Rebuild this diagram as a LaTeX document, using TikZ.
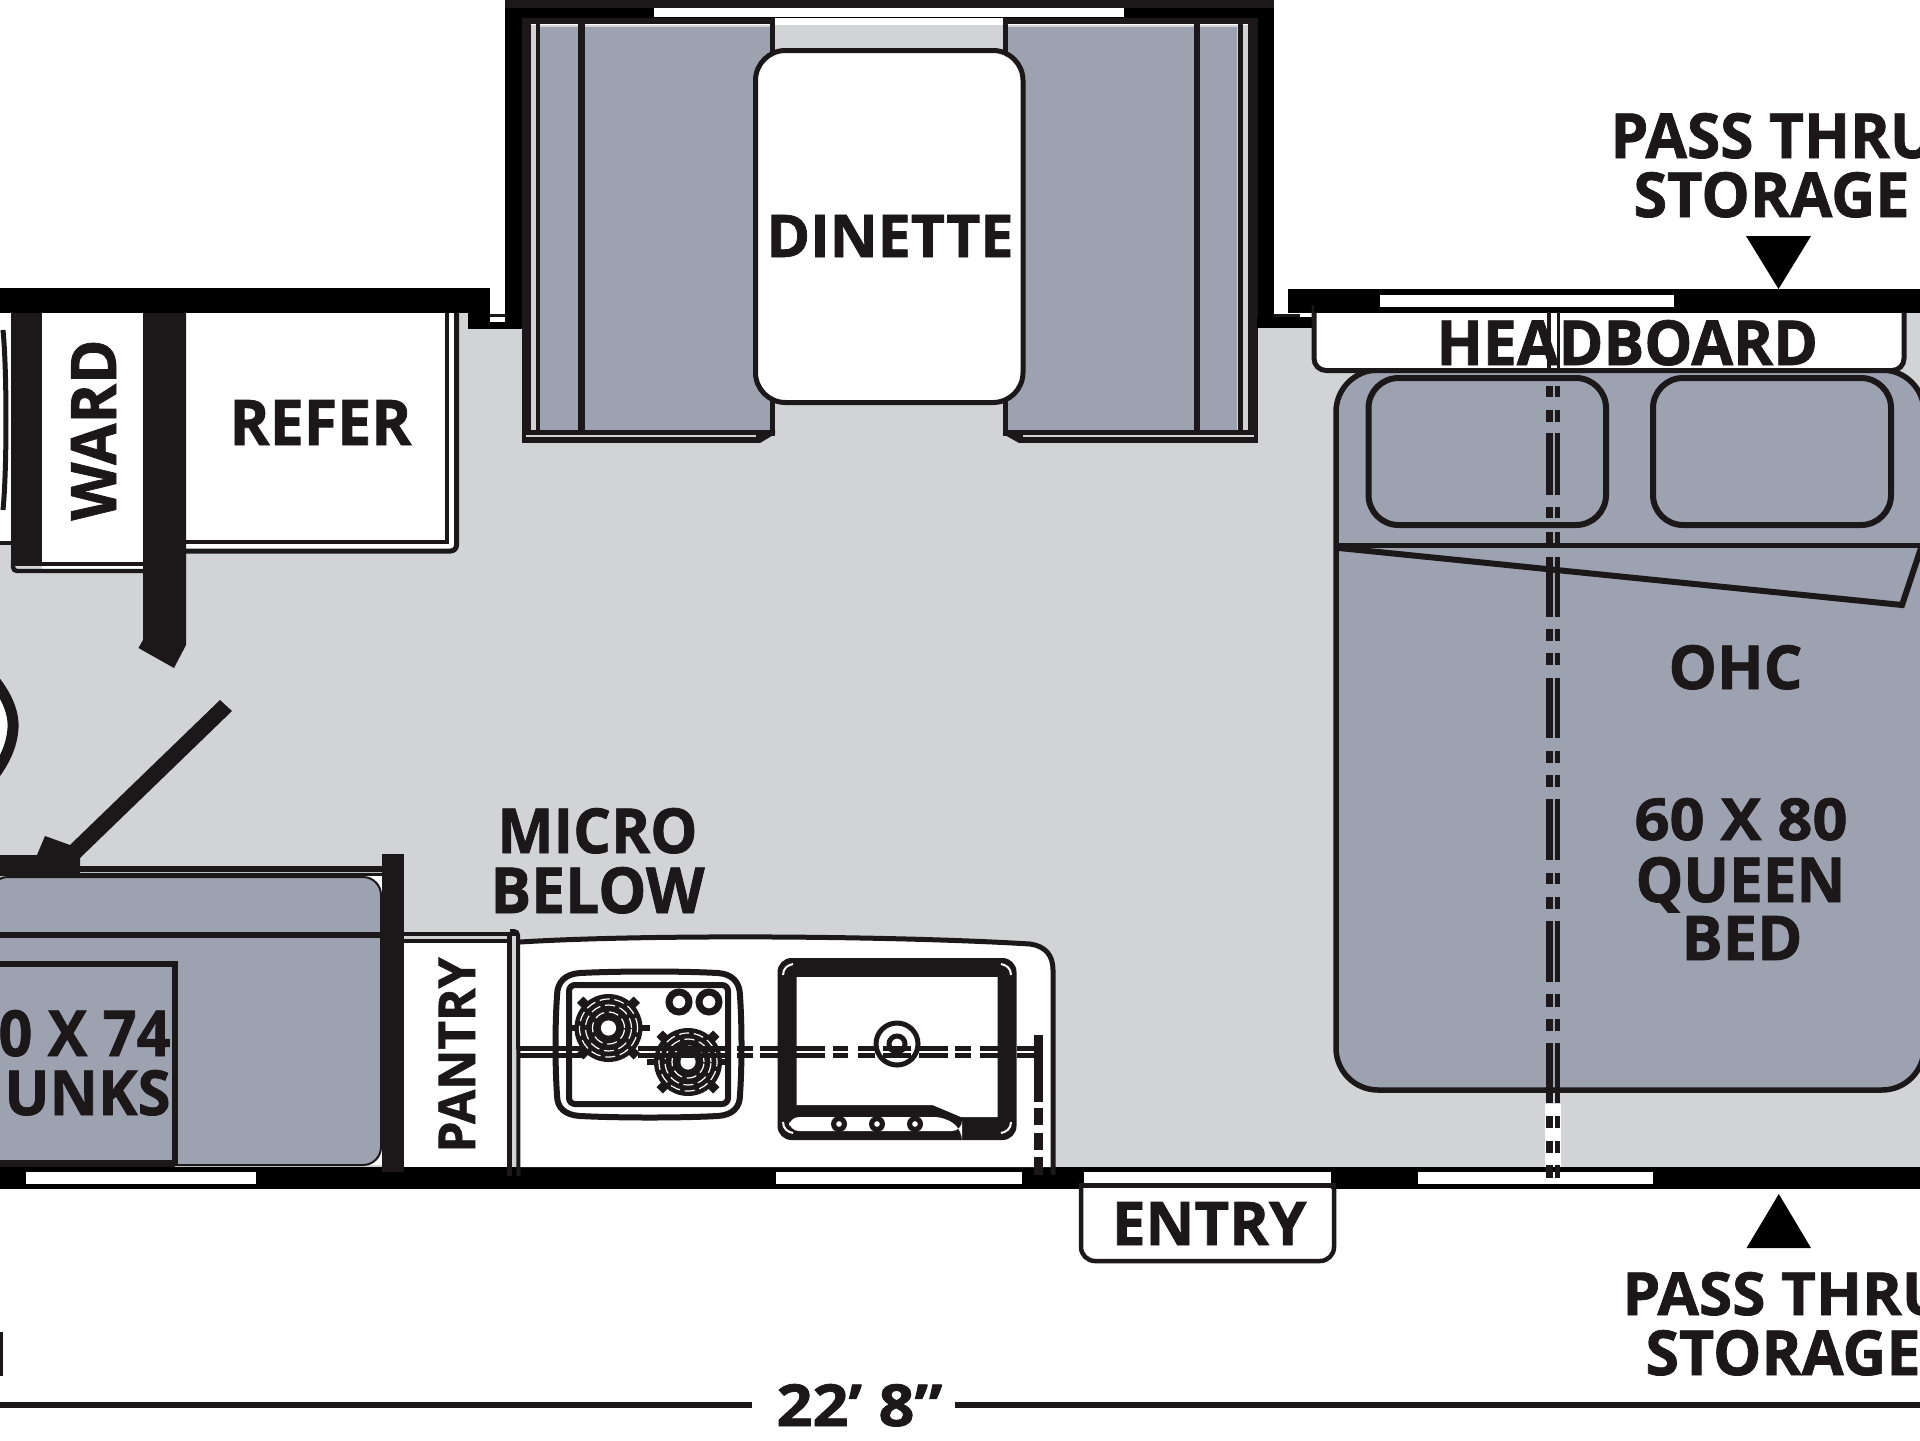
\documentclass[tikz,border=0pt]{standalone}
\usepackage{fontspec}
\setmainfont{Open Sans}[BoldFeatures={FakeBold=1.2}]
\definecolor{floorgray}{HTML}{D1D3D4}
\definecolor{seatgray}{HTML}{9CA2B0}
\definecolor{ink}{HTML}{1C1819}
\tikzset{
  ln/.style={draw=ink,line width=#1*0.5pt},
  lab/.style={inner sep=0pt,outer sep=0pt,text=ink,font=\bfseries},
}
% name, x1, x2, y1 (top), y2 (baseline), text
\newcommand{\plabel}[6]{%
  \pgfmathsetlengthmacro{\lblw}{(#3-#2+5)*0.5pt}%
  \pgfmathsetlengthmacro{\lblh}{(#5-#4)*0.5pt}%
  \node[lab,anchor=base] (#1) at ({(#2+#3)/2},#5) {\resizebox{\lblw}{\lblh}{\raisebox{0pt}[\height][0pt]{#6}}};%
}
\newcommand{\vlabel}[6]{%
  \pgfmathsetlengthmacro{\lblw}{(#5-#4+5)*0.5pt}%
  \pgfmathsetlengthmacro{\lblh}{(#3-#2)*0.5pt}%
  \node[lab,anchor=center,rotate=90] (#1) at ({(#2+#3)/2},{(#4+#5)/2}) {\resizebox{\lblw}{\lblh}{#6}};%
}
\newcommand{\burner}[2]{%
  \begin{scope}[shift={(#1,#2)}]
    \draw[ln=6] (-41,0) -- (41,0);
    \foreach \ang in {45,135,225,315} {\draw[ln=9] (0,0) -- (\ang:20pt);}
    \fill[ink] (0,0) circle[radius=17pt];
    \foreach \rr in {8,11.5,14.5} {\draw[white,line width=0.6pt,dash pattern=on 5pt off 2.4pt] (0,0) circle[radius=\rr pt];}
    \fill[white] (0,0) circle[radius=3.8pt];
  \end{scope}%
}
\begin{document}
\begin{tikzpicture}[x=0.5pt,y=-0.5pt]
\useasboundingbox (0,0) rectangle (1920,1440);
\clip (0,0) rectangle (1920,1440);
\fill[white] (0,0) rectangle (1920,1440);
% floor
\fill[floorgray] (0,313) -- (468,313) -- (468,329) -- (522,329) -- (522,25) -- (1257,25) -- (1257,328) -- (1312,328) -- (1312,313) -- (1920,313) -- (1920,1167) -- (0,1167) -- cycle;
% closet zone at far left
\fill[white] (0,313) rectangle (11,543);
\draw[ln=5] (3,330) .. controls (7,370) and (7,470) .. (3,510);
\draw[ln=4] (0,543) -- (11,543);
% toilet curve
\draw[ln=11,fill=white] (-6,680) .. controls (6,695) and (14,712) .. (13,728) .. controls (12,745) and (5,760) .. (-6,775);
% refer and ward
\fill[white] (186,313) rectangle (455,550);
\fill[white] (42,313) rectangle (143,573);
\draw[ln=4] (447,313) -- (447,542) -- (186,542);
\draw[draw=ink,line width=2.5pt,rounded corners=3pt] (456.5,308) -- (456.5,551) -- (186,551);
\fill[ink] (11,307) rectangle (42,566);
\draw[ink,line width=2pt] (42,564) -- (143,564);
\draw[draw=ink,line width=2.2pt,rounded corners=2pt] (13,560) -- (13,571) -- (143,571);
\fill[ink] (11,560) rectangle (42,566);
\fill[ink] (143,305) -- (186,305) -- (186,645) -- (174,668) -- (138.5,648) -- (143,640) -- cycle;
% left top wall
\fill[black] (0,288) -- (490,288) -- (490,313) -- (0,313) -- cycle;
\fill[black] (468,306) rectangle (490,322);
\draw[ln=3] (490,315) -- (522,315);
\fill[black] (468,322) rectangle (522,329);
% slide-out walls
\fill[ink] (505,0) rectangle (1274,8);
\fill[black] (505,8) rectangle (1274,18);
\fill[ink] (505,18) rectangle (775,24);
\fill[ink] (1003,18) rectangle (1274,24);
\fill[white] (654,8) rectangle (1124,17);
\fill[black] (505,18) rectangle (522,322);
\fill[black] (1257,18) rectangle (1274,317);
% benches
\fill[seatgray] (540,27) rectangle (770,430);
\fill[seatgray] (1008,27) rectangle (1237,430);
\fill[ink] (522,18) rectangle (531,443);
\fill[ink] (535.5,24) rectangle (540,430);
\fill[ink] (578,24) rectangle (584.5,430);
\fill[ink] (770,24) rectangle (775,436);
\fill[ink] (1003,24) rectangle (1008,436);
\fill[ink] (1194,24) rectangle (1200,430);
\fill[ink] (1238,24) rectangle (1243,430);
\fill[ink] (1248,18) rectangle (1258,443);
\fill[ink] (522,430) rectangle (760,443);
\fill[ink] (760,430) -- (775,430) -- (775,434) -- (760,443) -- cycle;
\fill[ink] (1019,430) rectangle (1258,443);
\fill[ink] (1003,430) -- (1019,430) -- (1019,443) -- (1003,434) -- cycle;
\draw[floorgray,line width=0.6pt] (526,436) -- (756,436);
\draw[floorgray,line width=0.6pt] (1023,436) -- (1254,436);
% dinette table
\draw[ln=5,fill=white,rounded corners=15pt] (755.5,50.5) rectangle (1023,402.5);
% right stub and right top wall
\fill[black] (1257,317) rectangle (1312,328);
\fill[black] (1288,289) rectangle (1920,313);
\fill[white] (1380,295) rectangle (1674,307);
\draw[ln=3] (1274,315) -- (1300,315);
% bed
\draw[ln=5.5,fill=seatgray,rounded corners=21pt] (1336,370) rectangle (1924,1090);
\draw[ln=6,rounded corners=15pt] (1368.5,378) rectangle (1606,525);
\draw[ln=6,rounded corners=15pt] (1653,378) rectangle (1891,525);
\draw[ln=5] (1336,545) -- (1920,545);
\draw[ln=6,line join=miter] (1339,548) -- (1902,605) -- (1922,545);
% headboard
\draw[ln=5,fill=white,rounded corners=6pt] (1314,305) -- (1314,370.5) -- (1904,370.5) -- (1904,305);
\fill[black] (1314,289) rectangle (1920,313);
\fill[white] (1380,295) rectangle (1674,307);
\plabel{headboard}{1439}{1815.5}{320}{365}{HEADBOARD}
% bottom wall
\fill[black] (0,1167) rectangle (1920,1189);
\fill[white] (26,1172) rectangle (256,1184);
\fill[white] (776,1172) rectangle (1022,1184);
\fill[white] (1418,1172) rectangle (1652.6,1184);
% entry
\draw[ln=4.5,fill=white,rounded corners=7pt] (1081,1186) -- (1081,1261) -- (1334,1261) -- (1334,1186);
\fill[black] (1076,1167) rectangle (1340,1172);
\fill[black] (1076,1172) rectangle (1084,1186);
\fill[black] (1331,1172) rectangle (1340,1189);
\fill[white] (1084,1172) rectangle (1331,1183);
\fill[ink] (1079,1183) rectangle (1336,1187.5);
% bunk
\fill[white] (340,876) rectangle (382,1165);
\draw[draw=ink,line width=1pt,fill=seatgray,rounded corners=9pt] (-10,877) rectangle (381,1165);
\draw[ln=6] (0,935) -- (382,935);
\draw[ln=6.5] (-5,964) -- (175,964) -- (175,1163) -- (-5,1163);
\fill[ink] (0,1161) rectangle (175,1167);
\plabel{bunkdim}{1}{168}{1010}{1056}{0 X 74}
\plabel{bunks}{7}{168}{1070}{1115}{UNKS}
% door and wall above bunk
\fill[ink] (80,866) rectangle (382,876);
\draw[seatgray!70!white,line width=0.6pt] (80,872.5) -- (382,872.5);
\fill[ink] (220,700) -- (232,711) -- (80,858) -- (80,876) -- (0,876) -- (0,855) -- (37,855) -- (45,836) -- (70,845) -- cycle;
% column
\fill[ink] (382,854) rectangle (403.5,1172);
% counter and pantry
\fill[white] (403.5,942) rectangle (510,1167);
\fill[white] (520,942) .. controls (650,934) and (900,936) .. (1030,944) .. controls (1045,946) and (1053,955) .. (1053,970) -- (1053,1167) -- (520,1167) -- cycle;
\draw[ln=5] (520,942) .. controls (650,934) and (900,936) .. (1030,944) .. controls (1045,946) and (1053,955) .. (1053,970) -- (1053,1175);
\draw[ln=4] (403.5,934) -- (516,934);
\draw[ln=4] (403.5,941) -- (507,941);
\draw[draw=ink,line width=2pt,rounded corners=2pt] (510,931) -- (518,931) -- (518.5,1176);
\draw[ln=4.5] (509.5,936) -- (509.5,1176);
\vlabel{pantry}{438.6}{475}{960}{1150}{PANTRY}
% stove
\draw[ln=6,fill=white] (580,973) .. controls (620,971) and (680,971) .. (718,973) .. controls (732,974) and (740,982) .. (740,996) .. controls (742,1025) and (742,1065) .. (740,1095) .. controls (740,1108) and (732,1115) .. (718,1116) .. controls (680,1118) and (620,1118) .. (580,1116) .. controls (565,1115) and (557,1108) .. (557,1095) .. controls (555,1065) and (555,1025) .. (557,996) .. controls (557,982) and (565,974) .. (580,973) -- cycle;
\draw[ln=6,rounded corners=3pt] (569,985) rectangle (728,1104);
\draw[ln=7] (679,1002) circle[radius=5pt];
\draw[ln=7] (709,1002) circle[radius=5pt];
\burner{608.5}{1028}
\burner{688}{1062}
% sink
\fill[ink,rounded corners=7pt] (777.5,958) rectangle (1016.5,1140);
\fill[white] (796.6,977) -- (997.5,977) -- (997.5,1117) -- (961,1117) -- (932.5,1105) -- (796.6,1105) -- cycle;
\fill[white,rounded corners=5pt] (789,1117) -- (789,1131) -- (962,1131) -- (962,1130) -- (945,1117) -- cycle;
\foreach \hx/\hn in {839/a,877/b,915/c} {\fill[ink] (\hx,1124) circle[radius=4pt]; \fill[white] (\hx,1124) circle[radius=1.4pt];}
\draw[white,line width=1pt] (783,975) .. controls (783,968) and (788,965) .. (793,964);
\draw[white,line width=1pt] (1011,975) .. controls (1011,968) and (1006,965) .. (1001,964);
\draw[white,line width=1pt] (783,1122) .. controls (783,1129) and (788,1132) .. (793,1133);
\draw[white,line width=1pt] (1011,1122) .. controls (1011,1129) and (1006,1132) .. (1001,1133);
\draw[ln=5,fill=white] (897,1044) circle[x radius=10.5pt,y radius=10.5pt];
\draw[ln=5] (897,1044) circle[radius=4pt];
% double dashed line across the counter
\foreach \xa/\xb in {519/582,638/730,737/752.6,760/825,833/848,858/875,883/911,919/948,955/971,980/997.5,1016.6/1034} {
  \draw[ln=5.5] (\xa,1048.5) -- (\xb,1048.5);
  \draw[ln=5.5] (\xa,1055.5) -- (\xb,1055.5);
}
\fill[ink] (1034,1035) rectangle (1043,1102);
\fill[ink] (1034,1108) rectangle (1043,1125);
\fill[ink] (1034,1133) rectangle (1043,1150);
\fill[ink] (1034,1157) rectangle (1043,1175);
% double dashed line through bed
\fill[white] (1545,1104) rectangle (1561,1167);
\draw[ln=4.5] (1549,312) -- (1549,368);
\draw[ln=3.5] (1558.5,312) -- (1558.5,368);
\foreach \ya/\yb in {386/397,410/422,433/495,507/518,532/543,557/617,629/641,653/665,678/738,751/763,775/787,799/860,873/884,897/909,921/982,994/1007,1019/1031,1043/1103,1116/1128,1141/1153,1165/1178} {
  \fill[ink] (1546,\ya) rectangle (1553,\yb);
  \fill[ink] (1554.5,\ya) rectangle (1560,\yb);
}
% storage arrows
\fill[black] (1746,236) -- (1811,236) -- (1778.5,289) -- cycle;
\fill[black] (1778.8,1194) -- (1811,1248) -- (1746.5,1248) -- cycle;
% dimension line
\draw[ln=6] (0,1405) -- (752,1405);
\draw[ln=6] (955,1405) -- (1920,1405);
\fill[ink] (0,1332) rectangle (2.5,1376);
% labels
\plabel{refer}{232}{409}{400}{445}{REFER}
\vlabel{ward}{71}{116}{342}{518}{WARD}
\plabel{dinette}{769}{1011}{215}{257}{DINETTE}
\plabel{micro}{500}{695}{808}{853}{MICRO}
\plabel{below}{493}{702}{867}{913}{BELOW}
\plabel{ohc}{1671}{1800}{645}{689}{OHC}
\plabel{bedsize}{1637}{1845}{798}{840}{60 X 80}
\plabel{queen}{1638}{1843}{857}{902}{QUEEN}
\plabel{bedword}{1684}{1800}{916}{960}{BED}
\plabel{entry}{1114.4}{1304}{1202}{1245}{ENTRY}
\plabel{passtop}{1613}{1933}{113}{158}{PASS THRU}
\plabel{storetop}{1636}{1907}{172}{217}{STORAGE}
\plabel{passbot}{1625}{1945}{1272}{1315}{PASS THRU}
\plabel{storebot}{1648}{1918}{1330}{1375}{STORAGE}
\plabel{length}{779}{940}{1384}{1426}{22’ 8”}
\end{tikzpicture}
\end{document}
